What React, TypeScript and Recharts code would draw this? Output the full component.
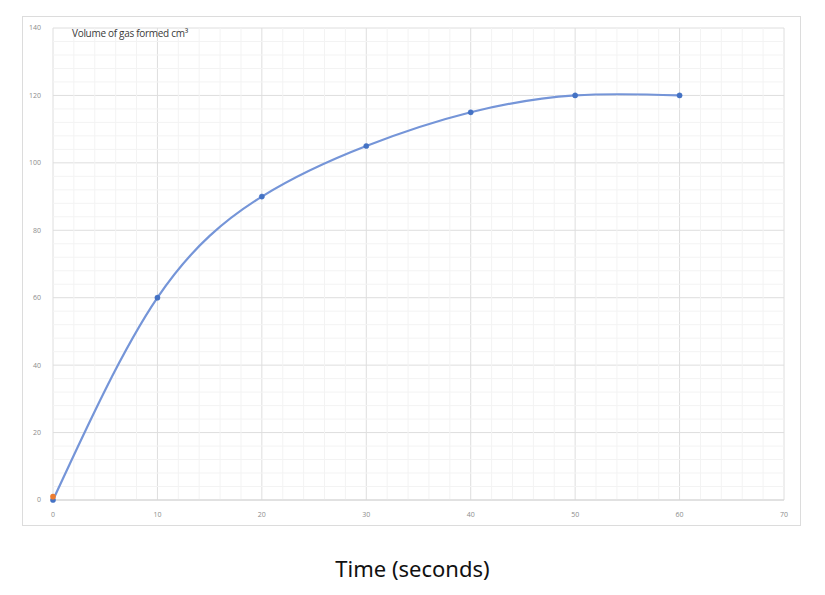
import React from "react";
import {
  ComposedChart,
  Line,
  Scatter,
  XAxis,
  YAxis,
  CartesianGrid,
  ReferenceLine,
} from "recharts";

// Readings (time in s, volume in cm³)
const times = [0, 10, 20, 30, 40, 50, 60];
const volumes = [0, 60, 90, 105, 115, 120, 120];
const startPoint = [{ t: 0, v: 1 }];

const xTicks = [0, 10, 20, 30, 40, 50, 60, 70];
const yTicks = [0, 20, 40, 60, 80, 100, 120, 140];
const minorX = [2, 4, 6, 8, 12, 14, 16, 18, 22, 24, 26, 28, 32, 34, 36, 38, 42, 44, 46, 48, 52, 54, 56, 58, 62, 64, 66, 68];
const minorY = [4, 8, 12, 16, 24, 28, 32, 36, 44, 48, 52, 56, 64, 68, 72, 76, 84, 88, 92, 96, 104, 108, 112, 116, 124, 128, 132, 136];

const data = times.map((t, i) => ({ t, v: volumes[i] }));

const tickStyle = { fontSize: 7, fill: "#8c8c8c", fontFamily: "Open Sans, sans-serif" };

export default function App() {
  return (
    <div style={{ position: "absolute", left: 0, top: 0, width: 825, height: 595, background: "#fff" }}>
      <div
        style={{
          position: "absolute",
          left: 22,
          top: 16,
          width: 777,
          height: 508,
          border: "1px solid #dcdcdc",
        }}
      />
      <div style={{ position: "absolute", left: 0, top: 0 }}>
        <ComposedChart width={825} height={595} data={data} margin={{ top: 28, right: 41, left: 0, bottom: 0 }}>
          {minorX.map((x) => (
            <ReferenceLine key={"mx" + x} x={x} stroke="#f3f3f3" strokeWidth={1} />
          ))}
          {minorY.map((y) => (
            <ReferenceLine key={"my" + y} y={y} stroke="#f3f3f3" strokeWidth={1} />
          ))}
          <CartesianGrid stroke="#dedede" strokeWidth={1} />
          <XAxis
            dataKey="t"
            type="number"
            domain={[0, 70]}
            ticks={xTicks}
            interval={0}
            height={95}
            tickLine={false}
            axisLine={{ stroke: "#d4d4d4" }}
            tick={tickStyle}
            tickMargin={6}
          />
          <YAxis
            dataKey="v"
            type="number"
            domain={[0, 140]}
            ticks={yTicks}
            interval={0}
            width={53}
            tickLine={false}
            axisLine={false}
            tick={tickStyle}
            tickMargin={6}
          />
          <Line
            type="natural"
            dataKey="v"
            stroke="#7595d8"
            strokeWidth={2.2}
            dot={{ r: 2.6, fill: "#4472c4", stroke: "#4472c4", strokeWidth: 0.5 }}
            isAnimationActive={false}
          />
          <Scatter data={startPoint} dataKey="v" fill="#ed7d31" isAnimationActive={false} shape={(p: any) => <circle cx={p.cx} cy={p.cy} r={2.8} fill="#ed7d31" />} />
        </ComposedChart>
      </div>
      <div
        style={{
          position: "absolute",
          left: 72,
          top: 26,
          fontSize: 10,
          fontFamily: "Open Sans, sans-serif",
          color: "#3a3a3a",
          letterSpacing: -0.3,
        }}
      >
        Volume of gas formed cm³
      </div>
      <div
        style={{
          position: "absolute",
          left: 0,
          width: 825,
          top: 553,
          textAlign: "center",
          fontSize: 22,
          fontFamily: "Noto Sans, sans-serif",
          color: "#111",
        }}
      >
        Time (seconds)
      </div>
    </div>
  );
}
